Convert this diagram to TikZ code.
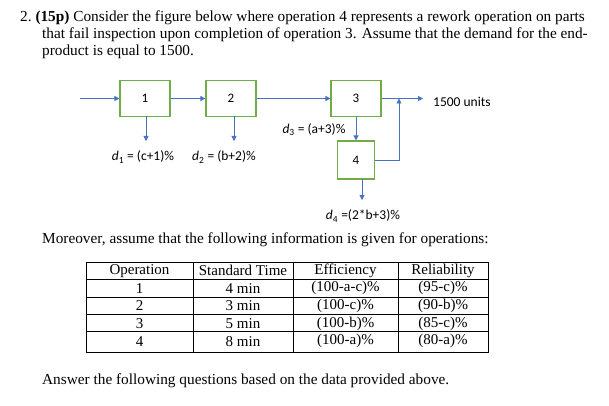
\documentclass[tikz,border=0pt]{standalone}
\usepackage{fontspec}
\setmainfont{Liberation Serif}
\newfontfamily\diag{Carlito}
\usetikzlibrary{arrows.meta}
\definecolor{bgreen}{HTML}{70AD47}
\definecolor{ablue}{HTML}{4472C4}
\begin{document}
\begin{tikzpicture}[x=1pt,y=-1pt,
  box/.style={draw=bgreen, line width=1.2pt, minimum width=50pt, minimum height=36pt, inner sep=0pt, font=\diag\fontsize{13}{14}\selectfont},
  sbox/.style={box, minimum width=37pt, minimum height=38pt},
  flow/.style={draw=ablue, line width=0.8pt, -{Triangle[length=5pt,width=5pt]}},
  lab/.style={font=\diag\fontsize{13.5}{14}\selectfont, inner sep=0pt},
  txt/.style={anchor=west, inner sep=0pt, font=\fontsize{15.3}{17}\selectfont},
  cell/.style={font=\fontsize{15}{16}\selectfont, inner sep=0pt}]
\useasboundingbox (0,0) rectangle (609,406);
\node[txt] (t1) at (20,18) {2.\ \textbf{(15p)} Consider the figure below where operation 4 represents a rework operation on parts};
\node[txt] (t2) at (42,35) {that fail inspection upon completion of operation 3. Assume that the demand for the end-};
\node[txt] (t3) at (42,52) {product is equal to 1500.};
\node[box] (b1) at (145,98.5) {1};
\node[box] (b2) at (231,98.5) {2};
\node[box] (b3) at (356,98.5) {3};
\node[sbox] (b4) at (356,160) {4};
\coordinate (in) at (80,98.5);
\coordinate (out) at (423,98.5);
\coordinate (j) at (399,98.5);
\coordinate (d1e) at (146,141);
\coordinate (d2e) at (234,141);
\coordinate (d4e) at (362,200);
\draw[flow] (in) -- (b1);
\draw[flow] (b1) -- (b2);
\draw[flow] (b2) -- (b3);
\draw[flow] (b3) -- (out);
\draw[flow] (b4.east) -| (j);
\draw[flow] (146,116.5) -- (d1e);
\draw[flow] (234,116.5) -- (d2e);
\draw[flow] (b3) -- (b4);
\draw[flow] (362,179) -- (d4e);
\node[lab, anchor=west] (u) at (433,102) {1500 units};
\node[lab] (l1) at (143,157) {\textit{d}\textsubscript{1} = (c+1)\%};
\node[lab] (l2) at (224,157) {\textit{d}\textsubscript{2} = (b+2)\%};
\node[lab] (l3) at (314,130) {\textit{d}\textsubscript{3} = (a+3)\%};
\node[lab] (l4) at (363,216) {\textit{d}\textsubscript{4} =(2*b+3)\%};
\node[txt] (t4) at (42,240) {Moreover, assume that the following information is given for operations:};
\begin{scope}[line width=0.6pt]
\draw (86,262) rectangle (488,352);
\foreach \y in {279,297,314,331} \draw (86,\y) -- (488,\y);
\foreach \x in {193,293,398} \draw (\x,262) -- (\x,352);
\end{scope}
\foreach \r/\a/\b/\c/\d [count=\i] in {Operation/Standard Time/Efficiency/Reliability,1/4 min/(100-a-c)\%/(95-c)\%,2/3 min/(100-c)\%/(90-b)\%,3/5 min/(100-b)\%/(85-c)\%,4/8 min/(100-a)\%/(80-a)\%}{
  \pgfmathsetmacro\yy{262+8.7+17.6*(\i-1)}
  \node[cell] at (139.5,\yy) {\r};
  \node[cell] at (243,\yy) {\a};
  \node[cell] at (345.5,\yy) {\b};
  \node[cell] at (443,\yy) {\c};
}
\node[txt] (t5) at (42,381) {Answer the following questions based on the data provided above.};
\end{tikzpicture}
\end{document}
